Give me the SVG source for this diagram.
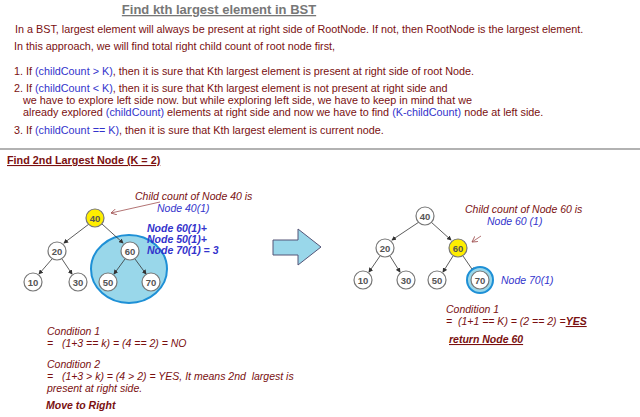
<svg xmlns="http://www.w3.org/2000/svg" width="640" height="417" viewBox="0 0 640 417">
<defs>
<marker id="ah" markerWidth="6" markerHeight="6" refX="5" refY="3" orient="auto"><path d="M0,0 L6,3 L0,6 z" fill="#333"/></marker>
<marker id="rh" markerWidth="8" markerHeight="8" refX="7" refY="4" orient="auto"><path d="M0,0 L7,4 L0,8" fill="none" stroke="#a05050"/></marker>
</defs>
<style>
text{font-family:"Liberation Sans",Arial,sans-serif;}
.t{font-size:9.5px;fill:#7a1010;}
.h{font-size:10.8px;}
.b{fill:#3333cc;}
.i{font-style:italic;font-size:10.5px;}
.n circle{fill:#fff;stroke:#777;stroke-width:1.2;}
.n text{font-size:9.5px;fill:#555;text-anchor:middle;font-weight:bold;}
.e{stroke:#333;stroke-width:0.8;fill:none;marker-end:url(#ah);}
</style>
<rect width="640" height="417" fill="#fff"/>
<text x="219" y="14" text-anchor="middle" font-size="13" font-weight="bold" fill="#777" text-decoration="underline">Find kth largest element in BST</text>
<text class="t h" x="15" y="33">In a BST, largest element will always be present at right side of RootNode. If not, then RootNode is the largest  element.</text>
<text class="t h" x="14" y="50">In this approach, we will find total right child count of root node  first,</text>
<text class="t h" x="14" y="75">1. If <tspan class="b">(childCount &gt; K)</tspan>, then it is sure that Kth  largest  element is present at right side of root Node.</text>
<text class="t h" x="14" y="92">2. If <tspan class="b">(childCount &lt; K)</tspan>, then it is sure that Kth  largest  element is not present at right side  and</text>
<text class="t h" x="23" y="104">we have to explore  left  side now. but while exploring  left  side, we have to keep in mind that we</text>
<text class="t h" x="23" y="116">already explored <tspan class="b">(childCount)</tspan> elements at  right  side and now we have to find <tspan class="b">(K-childCount)</tspan> node at  left  side.</text>
<text class="t h" x="14" y="134">3. If <tspan class="b">(childCount == K)</tspan>, then it is sure that Kth largest  element is current node.</text>
<line x1="0" y1="149" x2="640" y2="149" stroke="#999" stroke-width="1.5"/>
<text class="t h" x="7" y="164" font-weight="bold" text-decoration="underline">Find 2nd Largest Node (K = 2)</text>

<ellipse cx="129" cy="269" rx="38" ry="34" fill="#99d7ea" stroke="#1e90d6" stroke-width="2"/>
<g id="connectors">
<line class="e" x1="89" y1="224" x2="64" y2="243"/>
<line class="e" x1="102" y1="224" x2="123" y2="243"/>
<line class="e" x1="52" y1="259" x2="39" y2="274"/>
<line class="e" x1="62" y1="259" x2="72" y2="274"/>
<line class="e" x1="125" y1="259" x2="114" y2="274"/>
<line class="e" x1="135" y1="259" x2="146" y2="274"/>
<line class="e" x1="419" y1="222" x2="392" y2="240"/>
<line class="e" x1="431" y1="222" x2="451" y2="240"/>
<line class="e" x1="380" y1="256" x2="369" y2="272"/>
<line class="e" x1="390" y1="256" x2="400" y2="272"/>
<line class="e" x1="453" y1="256" x2="443" y2="272"/>
<line class="e" x1="463" y1="256" x2="474" y2="272"/>
<line x1="160" y1="202" x2="111" y2="213" stroke="#a05050" stroke-width="0.8" marker-end="url(#rh)"/>
<line x1="481" y1="236" x2="472" y2="242" stroke="#a05050" stroke-width="0.8" marker-end="url(#rh)"/>
</g>
<g id="l40" class="n"><circle cx="95" cy="218" r="9" style="fill:#ffee00"/><text x="95" y="222">40</text></g>
<g id="l20" class="n"><circle cx="57" cy="251" r="9"/><text x="57" y="255">20</text></g>
<g id="l60" class="n"><circle cx="130" cy="251" r="9"/><text x="130" y="255">60</text></g>
<g id="l10" class="n"><circle cx="33" cy="282" r="9"/><text x="33" y="286">10</text></g>
<g id="l30" class="n"><circle cx="78" cy="282" r="9"/><text x="78" y="286">30</text></g>
<g id="l50" class="n"><circle cx="108" cy="282" r="9"/><text x="108" y="286">50</text></g>
<g id="l70" class="n"><circle cx="151" cy="282" r="9"/><text x="151" y="286">70</text></g>

<g id="arrow"><path d="M273,240 H298 V229 L321,247 L298,265 V255 H273 Z" fill="#99d7ea" stroke="#557" stroke-width="1"/></g>

<g id="r70ring"><circle cx="480" cy="280" r="13" fill="#99d7ea" stroke="#1e90d6" stroke-width="2"/></g>
<g id="r40" class="n"><circle cx="425" cy="216" r="9"/><text x="425" y="220">40</text></g>
<g id="r20" class="n"><circle cx="385" cy="248" r="9"/><text x="385" y="252">20</text></g>
<g id="r60" class="n"><circle cx="458" cy="248" r="9" style="fill:#ffee00"/><text x="458" y="252">60</text></g>
<g id="r10" class="n"><circle cx="363" cy="280" r="9"/><text x="363" y="284">10</text></g>
<g id="r30" class="n"><circle cx="406" cy="280" r="9"/><text x="406" y="284">30</text></g>
<g id="r50" class="n"><circle cx="437" cy="280" r="9"/><text x="437" y="284">50</text></g>
<g id="r70" class="n"><circle cx="480" cy="280" r="9"/><text x="480" y="284">70</text></g>

<text class="t i" x="135" y="200">Child count of Node 40 is</text>
<text class="i b" x="157" y="212">Node 40(1)</text>
<text class="i b" x="147" y="232" font-size="9.5" font-weight="bold" fill="#3333cc">Node 60(1)+</text>
<text class="i b" x="147" y="243" font-size="9.5" font-weight="bold" fill="#3333cc">Node 50(1)+</text>
<text class="i b" x="147" y="254" font-size="9.5" font-weight="bold" fill="#3333cc">Node 70(1) = 3</text>
<text class="t i" x="47" y="335">Condition 1</text>
<text class="t i" x="47" y="347" xml:space="preserve">=   (1+3 == k) = (4 == 2) = NO</text>
<text class="t i" x="47" y="368">Condition 2</text>
<text class="t i" x="47" y="380" xml:space="preserve">=   (1+3 &gt; k) = (4 &gt; 2) = YES, It means 2nd  largest is</text>
<text class="t i" x="47" y="392">present at right side.</text>
<text class="t i" x="46" y="409" font-weight="bold">Move to  Right</text>

<text class="t i" x="465" y="213">Child count of Node 60 is</text>
<text class="i b" x="487" y="225">Node 60 (1)</text>
<text class="i b" x="501" y="284">Node 70(1)</text>
<text class="t i" x="446" y="313">Condition 1</text>
<text class="t i" x="446" y="325" xml:space="preserve">=  (1+1 == K) = (2 == 2) =<tspan font-weight="bold" text-decoration="underline">YES</tspan></text>
<text class="t i" x="449" y="343" font-weight="bold" text-decoration="underline">return Node 60</text>
</svg>
